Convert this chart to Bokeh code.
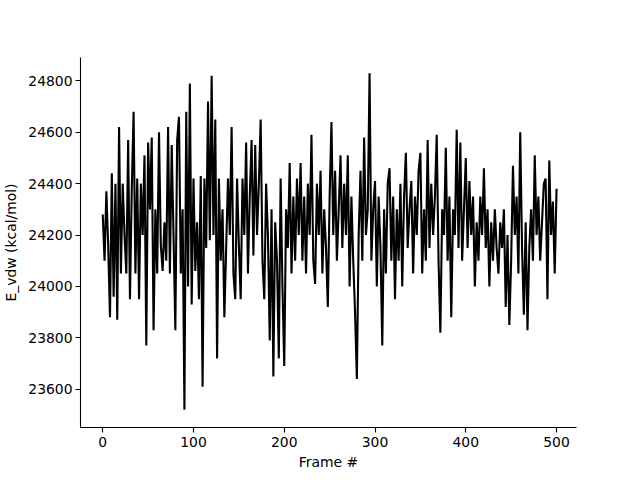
from bokeh.plotting import figure
from bokeh.models import Range1d, FixedTicker, ColumnDataSource
from bokeh.embed import file_html
from bokeh.resources import INLINE

# E_vdw values, one every 2 frames (frames 0..500)
energy = [
    24280, 24100, 24370, 24160, 23880, 24440, 23960, 24400, 23870, 24620,
    24050, 24400, 24200, 24050, 24570, 23950, 24380, 24680, 24050, 24420,
    23950, 24400, 24200, 24510, 23770, 24560, 24300, 24580, 23830, 24300,
    24050, 24600, 24160, 24060, 24250, 24100, 24620, 24050, 24550, 24200,
    23830, 24570, 24660, 24050, 24300, 23520, 24680, 24000, 24790, 23930,
    24420, 24060, 24250, 23950, 24430, 23610, 24420, 24150, 24720, 24180,
    24820, 24200, 24650, 23720, 24420, 24100, 24300, 23880, 24150, 24420,
    24200, 24620, 24050, 23950, 24420, 24160, 23950, 24420, 24200, 24560,
    24050, 24350, 24570, 24120, 24550, 24200, 24400, 24650, 24100, 23950,
    24400, 24200, 23790, 24300, 23650, 24250, 24100, 23720, 24420, 24000,
    23690, 24300, 24150, 24480, 24050, 24350, 24100, 24420, 24200, 24480,
    24100, 24350, 24050, 24400, 24200, 24590, 24100, 24010, 24400, 24200,
    24450, 24050, 24300, 24150, 23920, 24350, 24640, 24200, 24450, 24100,
    24300, 24510, 24150, 24400, 24200, 24510, 24000, 24350, 24100, 23900,
    23640, 24200, 24450, 24100, 24580, 24200, 24300, 24830, 24100, 24300,
    24410, 24000, 24350, 24150, 23770, 24300, 24050, 24400, 24460, 24100,
    24350, 23950, 24300, 24100, 24400, 24000, 24350, 24520, 24150, 24300,
    24410, 24050, 24350, 24200, 24450, 24520, 24050, 24300, 24100, 24570,
    24150, 24400, 24200, 24350, 24590, 24100, 23820, 24300, 24200, 24540,
    24100, 24350, 23880, 24300, 24200, 24610, 24150, 24560, 24100, 24300,
    24500, 24150, 24410, 24200, 24350, 24000, 24250, 24100, 24350, 24200,
    24460, 24150, 24300, 24000, 24250, 24100, 24300, 24150, 24050, 24250,
    24150, 24300, 23920, 24200, 23850, 24100, 24470, 24200, 24350, 24050,
    24600, 24150, 23890, 24250, 23830, 24150, 24300, 24100, 24510, 24200,
    24350, 24100, 24250, 24400, 24420, 23950, 24490, 24200, 24330, 24050,
    24380,
]
frames = [2 * i for i in range(len(energy))]

x_ticks = [0, 100, 200, 300, 400, 500]
y_ticks = [23600, 23800, 24000, 24200, 24400, 24600, 24800]

src = ColumnDataSource(dict(frame=frames, e=energy))

p = figure(frame_width=496, frame_height=370, output_backend="svg", toolbar_location=None,
           x_range=Range1d(-24.5, 522), y_range=Range1d(23451, 24891),
           min_border_left=80, min_border_right=48, min_border_top=57, min_border_bottom=45)
p.line("frame", "e", source=src, line_color="black", line_width=2.1)

p.outline_line_color = None
p.grid.grid_line_color = None
p.background_fill_color = "white"
p.border_fill_color = "white"

p.xaxis.ticker = FixedTicker(ticks=x_ticks)
p.yaxis.ticker = FixedTicker(ticks=y_ticks)
p.xaxis.axis_label = "Frame #"
p.yaxis.axis_label = "E_vdw (kcal/mol)"
for ax in (p.xaxis, p.yaxis):
    ax.axis_line_color = "black"
    ax.axis_line_width = 1.1
    ax.major_tick_line_color = "black"
    ax.major_tick_line_width = 1.1
    ax.major_tick_out = 5
    ax.major_tick_in = 0
    ax.minor_tick_line_color = None
    ax.major_label_text_font = "DejaVu Sans"
    ax.major_label_text_font_size = "13.9px"
    ax.major_label_text_color = "black"
    ax.axis_label_text_font = "DejaVu Sans"
    ax.axis_label_text_font_size = "13.9px"
    ax.axis_label_text_font_style = "normal"
    ax.axis_label_text_color = "black"
p.xaxis.major_label_standoff = 4
p.yaxis.major_label_standoff = 3
p.xaxis.axis_label_standoff = 4
p.yaxis.axis_label_standoff = 6

open("out.html", "w").write(file_html(p, INLINE))
